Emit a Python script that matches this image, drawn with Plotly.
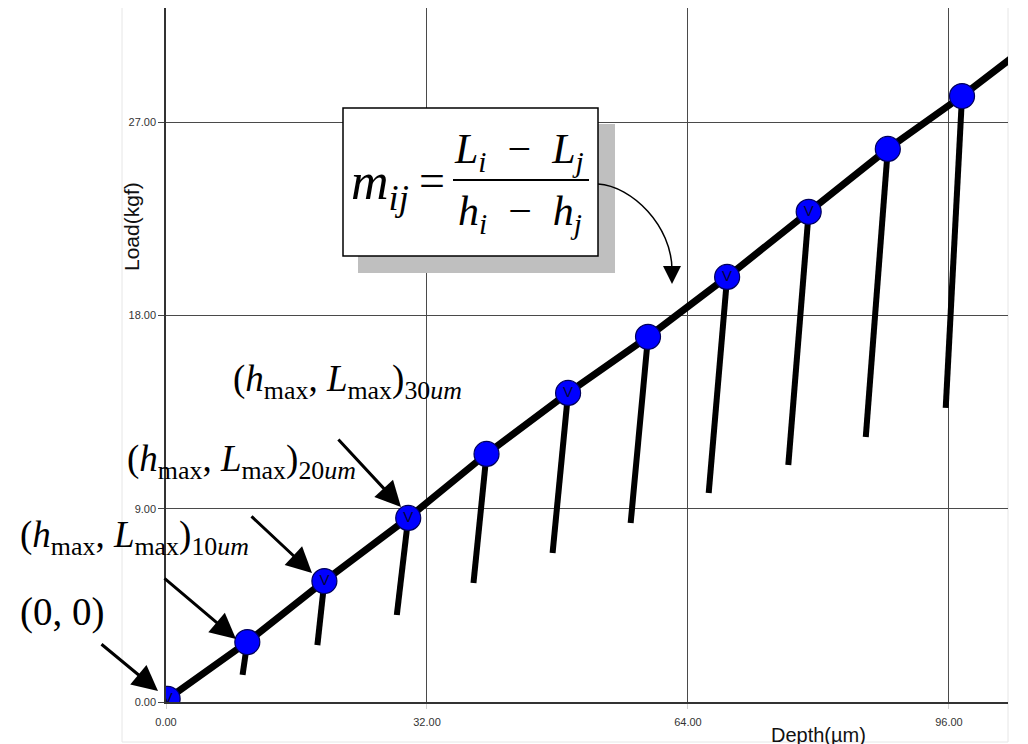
import plotly.graph_objects as go

# ---------------- data ----------------
# maximum-load points of each loading step (depth in um, load in kgf)
h_max = [0.2, 9.97, 19.42, 29.7, 39.3, 49.3, 59.1, 68.8, 78.8, 88.5, 97.6]
L_max = [0.15, 2.79, 5.63, 8.57, 11.55, 14.39, 17.0, 19.79, 22.82, 25.75, 28.21]
# loading curve continues past the last point to the right edge
curve_end_depth = 103.5
curve_end_load = 29.93
# end points of the unloading branches (one per step, steps 2..11)
unload_end_depth = [9.39, 18.56, 28.3, 37.7, 47.4, 56.97, 66.54, 76.3, 85.8, 95.6]
unload_end_load = [1.26, 2.65, 4.05, 5.54, 6.94, 8.33, 9.73, 11.03, 12.34, 13.69]
# which markers carry the "V" tag
v_flag = [1, 0, 1, 1, 0, 1, 0, 1, 1, 0, 0]

x_ticks = [0, 32, 64, 96]
y_ticks = [0, 9, 18, 27]
x_tick_text = ["0.00", "32.00", "64.00", "96.00"]
y_tick_text = ["0.00", "9.00", "18.00", "27.00"]

# ---------------- geometry helpers (layout only) ----------------
OFF = 8                      # default page body margin
FW, FH = 1028 - OFF, 744 - OFF
PL, PR, PT, PB = 166, 1008, 8, 702   # plot area in page pixels
PW, PH = PR - PL, PB - PT


def px(x):
    return (x - PL) / PW


def py(y):
    return (PB - y) / PH


fig = go.Figure()

# loading curve
fig.add_trace(go.Scatter(
    x=[0.0] + h_max + [curve_end_depth],
    y=[0.0] + L_max + [curve_end_load],
    mode="lines", line=dict(color="black", width=7),
    hoverinfo="skip", showlegend=False))

# unloading branches
ux, uy = [], []
for i in range(len(unload_end_depth)):
    ux += [h_max[i + 1], unload_end_depth[i], None]
    uy += [L_max[i + 1], unload_end_load[i], None]
fig.add_trace(go.Scatter(
    x=ux, y=uy, mode="lines", line=dict(color="black", width=6),
    connectgaps=False, hoverinfo="skip", showlegend=False))

# markers
fig.add_trace(go.Scatter(
    x=h_max, y=L_max, mode="markers+text",
    text=["V" if f else "" for f in v_flag],
    textposition="middle center",
    textfont=dict(family="Liberation Sans", size=15, color="#06063a"),
    marker=dict(size=25, color="#0000ff", line=dict(color="#00005a", width=1.2)),
    hoverinfo="skip", showlegend=False))

shapes = []
# faint panel border
shapes.append(dict(type="rect", xref="paper", yref="paper",
                   x0=px(122), x1=px(1008), y0=py(742), y1=py(-2),
                   line=dict(color="#e6e6e6", width=1), layer="below"))
# formula box with shadow
shapes.append(dict(type="rect", xref="paper", yref="paper",
                   x0=px(358), x1=px(615), y0=py(273), y1=py(124),
                   fillcolor="#bfbfbf", line=dict(width=0), layer="above"))
shapes.append(dict(type="rect", xref="paper", yref="paper",
                   x0=px(343), x1=px(598), y0=py(256), y1=py(108),
                   fillcolor="white", line=dict(color="black", width=1.5), layer="above"))
# fraction bar
shapes.append(dict(type="line", xref="paper", yref="paper",
                   x0=px(453), x1=px(589), y0=py(180), y1=py(180),
                   line=dict(color="black", width=2), layer="above"))
# curved arrow shaft
p0, c1, c2, p1 = (598, 184), (632, 186), (672, 226), (672, 270)
path = "M {},{} C {},{} {},{} {},{}".format(
    px(p0[0]), py(p0[1]), px(c1[0]), py(c1[1]), px(c2[0]), py(c2[1]), px(p1[0]), py(p1[1]))
shapes.append(dict(type="path", xref="paper", yref="paper", path=path,
                   line=dict(color="black", width=1.5), layer="above"))

ann = []
SERIF = "Liberation Serif"
# formula text
ann.append(dict(xref="paper", yref="paper", x=px(380), y=py(186), showarrow=False,
                text="<i>m</i><sub><i>ij</i></sub>", font=dict(family=SERIF, size=52, color="black"),
                xanchor="center", yanchor="middle"))
ann.append(dict(xref="paper", yref="paper", x=px(432), y=py(180), showarrow=False,
                text="=", font=dict(family=SERIF, size=46, color="black"),
                xanchor="center", yanchor="middle"))
ann.append(dict(xref="paper", yref="paper", x=px(519), y=py(152), showarrow=False,
                text="<i>L</i><sub><i>i</i></sub>  \u2212  <i>L</i><sub><i>j</i></sub>",
                font=dict(family=SERIF, size=42, color="black"),
                xanchor="center", yanchor="middle"))
ann.append(dict(xref="paper", yref="paper", x=px(520), y=py(214), showarrow=False,
                text="<i>h</i><sub><i>i</i></sub>  \u2212  <i>h</i><sub><i>j</i></sub>",
                font=dict(family=SERIF, size=42, color="black"),
                xanchor="center", yanchor="middle"))
# curved arrow head
ann.append(dict(xref="paper", yref="paper", x=px(672), y=py(284), ax=0, ay=-16,
                showarrow=True, arrowhead=2, arrowwidth=1.5, arrowsize=2.4,
                arrowcolor="black", text=""))

# left labels
lbl_font = dict(family=SERIF, size=37, color="black")
ann.append(dict(xref="paper", yref="paper", x=px(18), y=py(612), showarrow=False,
                text="(0, 0)", font=dict(family=SERIF, size=39, color="black"),
                xanchor="left", yanchor="middle"))
for txt, lx, ly in [("10", 18, 537), ("20", 125, 462), ("30", 231, 381)]:
    ann.append(dict(xref="paper", yref="paper", x=px(lx), y=py(ly), showarrow=False,
                    text="(<i>h</i><sub>max</sub>, <i>L</i><sub>max</sub>)<sub>" + txt + "<i>um</i></sub>",
                    font=lbl_font, xanchor="left", yanchor="middle"))
# straight arrows (tail -> tip, pixels)
for (tx, ty), (hx, hy) in [((100, 643), (158, 691)), ((163, 577), (236, 639)),
                           ((250, 515), (312, 573)), ((337, 438), (401, 507))]:
    ann.append(dict(xref="paper", yref="paper", x=px(hx), y=py(hy),
                    ax=tx - hx, ay=ty - hy, showarrow=True, arrowhead=2,
                    arrowwidth=3, arrowsize=1.7, arrowcolor="black", text=""))

# axis titles
ann.append(dict(xref="paper", yref="paper", x=px(131), y=py(227), showarrow=False,
                text="Load(kgf)", textangle=-90,
                font=dict(family="Liberation Sans", size=21, color="#111"),
                xanchor="center", yanchor="middle"))
ann.append(dict(xref="paper", yref="paper", x=px(818), y=py(735), showarrow=False,
                text="Depth(\u00b5m)",
                font=dict(family="Liberation Sans", size=20, color="#111"),
                xanchor="center", yanchor="middle"))

fig.update_layout(
    width=FW, height=FH, autosize=False,
    margin=dict(l=PL - OFF, r=FW - (PR - OFF), t=PT - OFF, b=FH - (PB - OFF), pad=0),
    plot_bgcolor="white", paper_bgcolor="white",
    shapes=shapes, annotations=ann, showlegend=False,
    xaxis=dict(range=[0, PW / 8.156], tickvals=x_ticks, ticktext=x_tick_text,
               showgrid=True, gridcolor="#4a4a4a", gridwidth=1.3, zeroline=False,
               showline=True, linecolor="#333333", linewidth=1.5,
               ticks="outside", ticklen=5, tickcolor="#d0d0d0", ticklabelstandoff=4,
               tickfont=dict(family="Liberation Sans", size=11, color="#333")),
    yaxis=dict(range=[0, PH / 21.48], tickvals=y_ticks, ticktext=y_tick_text,
               showgrid=True, gridcolor="#4a4a4a", gridwidth=1.3, zeroline=False,
               showline=True, linecolor="#333333", linewidth=1.5,
               ticks="outside", ticklen=6, tickcolor="#444444",
               tickfont=dict(family="Liberation Sans", size=11, color="#333")),
)

fig.write_html("out.html")
